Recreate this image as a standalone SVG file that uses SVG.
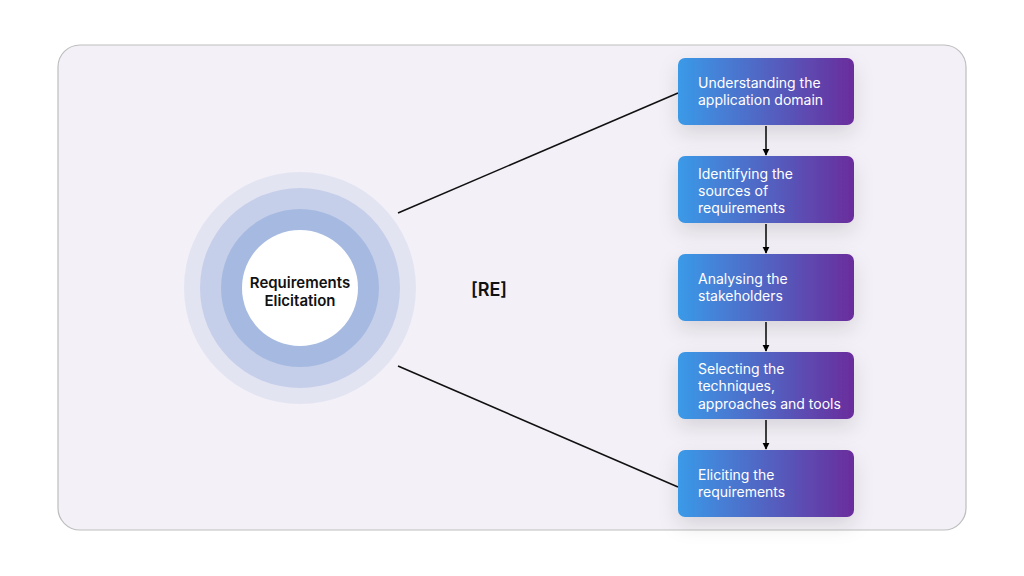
<svg xmlns="http://www.w3.org/2000/svg" width="1024" height="576" viewBox="0 0 1024 576">
<defs>
<linearGradient id="g" x1="0" y1="0" x2="1" y2="0"><stop offset="0" stop-color="#3a9ae8"/><stop offset="1" stop-color="#6a2c9c"/></linearGradient>
<filter id="sh" x="-30%" y="-30%" width="160%" height="180%"><feDropShadow dx="0" dy="8" stdDeviation="10" flood-color="#000" flood-opacity="0.12"/></filter>
<marker id="ah" viewBox="0 0 10 10" refX="9" refY="5" markerWidth="4.5" markerHeight="4.5" orient="auto"><path d="M0,0L10,5L0,10z" fill="#000"/></marker>
</defs>
<style>
.box{fill:url(#g);filter:url(#sh)}
.bt{font-family:Inter,"Noto Sans",sans-serif;font-size:14px;fill:#fff}
.ct{font-family:Inter,"Noto Sans",sans-serif;font-size:15px;font-weight:600;fill:#111;text-anchor:middle}
.c{stroke:#111;stroke-width:1.6;fill:none}
</style>
<rect width="1024" height="576" fill="#fff"/>
<rect x="58" y="45" width="908" height="485" rx="22" fill="#f3f0f7" stroke="#bdbdbd" stroke-width="1.2"/>
<g id="center">
<circle cx="300" cy="288" r="116" fill="#e3e4f2"/>
<circle cx="300" cy="288" r="100" fill="#c6cfea"/>
<circle cx="300" cy="288" r="79" fill="#a6bae1"/>
<circle cx="300" cy="288" r="58" fill="#fff"/>
<text class="ct" x="300" y="288">Requirements</text>
<text class="ct" x="300" y="306">Elicitation</text>
</g>
<g id="re"><text x="489" y="296" class="ct" style="font-size:18px">[RE]</text></g>
<g id="connectors">
<line class="c" x1="398" y1="213" x2="678" y2="93"/>
<line class="c" x1="398" y1="366" x2="678" y2="487"/>
<line class="c" x1="766" y1="126" x2="766" y2="155" marker-end="url(#ah)"/>
<line class="c" x1="766" y1="224" x2="766" y2="253" marker-end="url(#ah)"/>
<line class="c" x1="766" y1="322" x2="766" y2="351" marker-end="url(#ah)"/>
<line class="c" x1="766" y1="420" x2="766" y2="449" marker-end="url(#ah)"/>
</g>
<g id="n1"><rect class="box" x="678" y="58" width="176" height="67" rx="7"/><text class="bt" x="698" y="88">Understanding the</text><text class="bt" x="698" y="105">application domain</text></g>
<g id="n2"><rect class="box" x="678" y="156" width="176" height="67" rx="7"/><text class="bt" x="698" y="179">Identifying the</text><text class="bt" x="698" y="196">sources of</text><text class="bt" x="698" y="213">requirements</text></g>
<g id="n3"><rect class="box" x="678" y="254" width="176" height="67" rx="7"/><text class="bt" x="698" y="284">Analysing the</text><text class="bt" x="698" y="301">stakeholders</text></g>
<g id="n4"><rect class="box" x="678" y="352" width="176" height="67" rx="7"/><text class="bt" x="698" y="374">Selecting the</text><text class="bt" x="698" y="391">techniques,</text><text class="bt" x="698" y="409">approaches and tools</text></g>
<g id="n5"><rect class="box" x="678" y="450" width="176" height="67" rx="7"/><text class="bt" x="698" y="480">Eliciting the</text><text class="bt" x="698" y="497">requirements</text></g>
</svg>
